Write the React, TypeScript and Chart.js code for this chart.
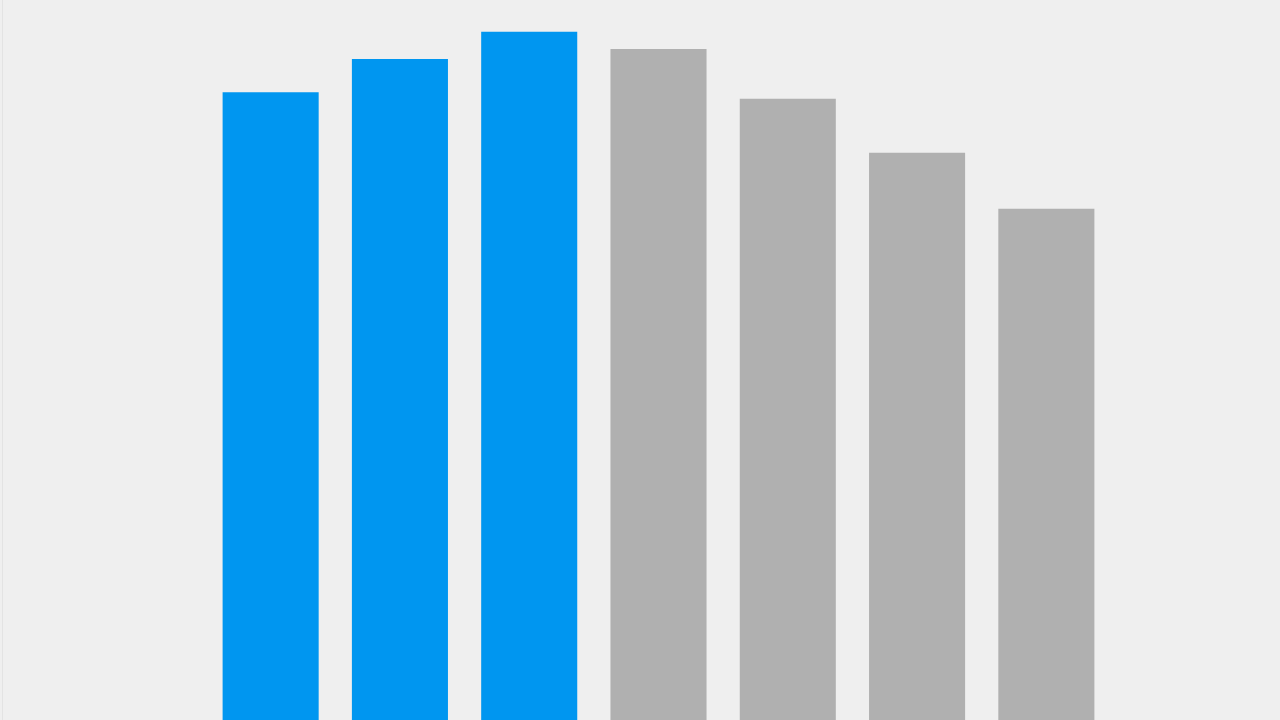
import React, { useEffect, useRef } from "react";
import { Chart, registerables } from "chart.js";

Chart.register(...registerables);

const categories = ["1", "2", "3", "4", "5", "6", "7"];
const values = [87.2, 91.8, 95.6, 93.2, 86.3, 78.8, 71.0];
const barColors = ["#0096f0", "#0096f0", "#0096f0", "#b0b0b0", "#b0b0b0", "#b0b0b0", "#b0b0b0"];
const yMax = 100;

export default function App() {
  const ref = useRef<HTMLCanvasElement | null>(null);

  useEffect(() => {
    document.body.style.margin = "0";
    document.body.style.background = "#efefef";
    if (!ref.current) return;
    const chart = new Chart(ref.current, {
      type: "bar",
      data: {
        labels: categories,
        datasets: [
          {
            data: values,
            backgroundColor: barColors,
            borderWidth: 0,
            categoryPercentage: 1,
            barPercentage: 0.743,
          },
        ],
      },
      options: {
        animation: false,
        responsive: false,
        maintainAspectRatio: false,
        layout: { padding: { left: 206, right: 169, top: 0, bottom: 0 } },
        plugins: { legend: { display: false }, tooltip: { enabled: false } },
        scales: {
          x: { display: false },
          y: { display: false, min: 0, max: yMax },
        },
      },
    });
    return () => chart.destroy();
  }, []);

  return (
    <div style={{ position: "fixed", left: 0, top: 0, width: 1280, height: 720, background: "#efefef", overflow: "hidden" }}>
      <div style={{ position: "absolute", left: 2, top: 0, width: 1, height: 720, background: "#e3e3e3" }} />
      <canvas ref={ref} width={1280} height={720} style={{ position: "absolute", left: 0, top: 0, width: 1280, height: 720 }} />
    </div>
  );
}
